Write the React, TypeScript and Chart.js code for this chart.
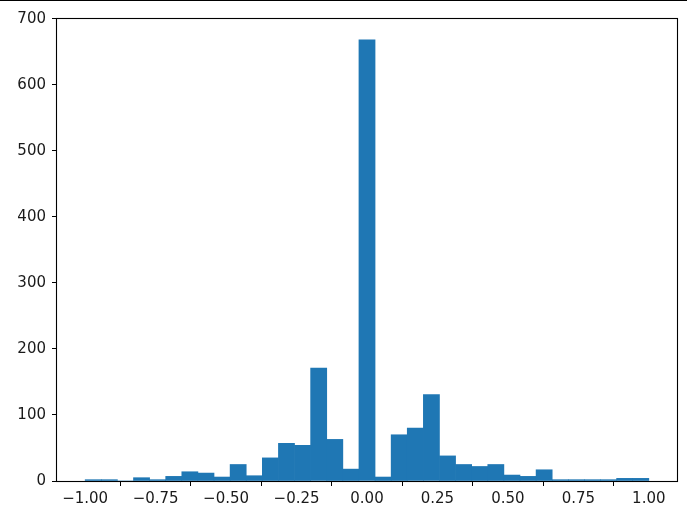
import React, { useEffect, useRef } from "react";
import { Chart, registerables } from "chart.js";

Chart.register(...registerables);

// Histogram: 35 equal bins from -1 to 1
const BIN_START = -1;
const BIN_END = 1;
const COUNTS = [
  2, 2, 0, 5, 2, 7, 14, 12, 6, 25,
  8, 35, 57, 54, 171, 63, 18, 668, 6, 70,
  80, 131, 38, 25, 22, 25, 9, 7, 17, 2,
  2, 2, 2, 4, 4,
];
const X_TICKS = [-1, -0.75, -0.5, -0.25, 0, 0.25, 0.5, 0.75, 1];
const Y_TICKS = [0, 100, 200, 300, 400, 500, 600, 700];

const FONT = { family: "'DejaVu Sans', sans-serif", size: 15 };

const framePlugin = {
  id: "frame",
  afterDraw(chart: any) {
    const { ctx, chartArea } = chart;
    ctx.save();
    ctx.strokeStyle = "#000";
    ctx.lineWidth = 1.1;
    ctx.strokeRect(
      Math.round(chartArea.left) - 0.5,
      Math.round(chartArea.top) + 0.5,
      Math.round(chartArea.right - chartArea.left) + 1,
      Math.round(chartArea.bottom - chartArea.top)
    );
    ctx.restore();
  },
};

export default function App() {
  const ref = useRef<HTMLCanvasElement | null>(null);
  useEffect(() => {
    if (!ref.current) return;
    const n = COUNTS.length;
    const w = (BIN_END - BIN_START) / n;
    const data = COUNTS.map((c, i) => ({ x: BIN_START + (i + 0.5) * w, y: c }));
    const fmt = (v: number) => (v < 0 ? "\u2212" : "") + Math.abs(v).toFixed(2);
    const chart = new Chart(ref.current, {
      type: "bar",
      data: {
        datasets: [
          {
            data: data as any,
            backgroundColor: "#1f77b4",
            borderWidth: 0,
            barPercentage: 1,
            categoryPercentage: 1,
          },
        ],
      },
      options: {
        animation: false,
        responsive: false,
        devicePixelRatio: 1,
        layout: { padding: { top: 18, right: 10, left: 0, bottom: 0 } },
        plugins: { legend: { display: false }, tooltip: { enabled: false } },
        scales: {
          x: {
            type: "linear",
            min: -1.1,
            max: 1.1,
            offset: false,
            border: { display: false },
            grid: { drawOnChartArea: false, drawTicks: true, tickLength: 5, tickColor: "#000", tickWidth: 1 },
            afterBuildTicks: (s: any) => {
              s.ticks = X_TICKS.map((v) => ({ value: v }));
            },
            afterFit: (s: any) => {
              s.height = 42;
            },
            ticks: {
              color: "#1a1a1a",
              font: FONT,
              padding: 4,
              maxRotation: 0,
              autoSkip: false,
              callback: (v: any) => fmt(Number(v)),
            },
          },
          y: {
            min: 0,
            max: 701,
            border: { display: false },
            grid: { drawOnChartArea: false, drawTicks: true, tickLength: 5, tickColor: "#000", tickWidth: 1 },
            afterBuildTicks: (s: any) => {
              s.ticks = Y_TICKS.map((v) => ({ value: v }));
            },
            afterFit: (s: any) => {
              s.width = 57;
            },
            ticks: {
              color: "#1a1a1a",
              font: FONT,
              padding: 6,
              autoSkip: false,
              callback: (v: any) => String(v),
            },
          },
        },
      },
      plugins: [framePlugin],
    });
    return () => chart.destroy();
  }, []);
  return (
    <>
      <div style={{ position: "fixed", left: 0, top: 0, width: 687, height: 1, background: "#000", zIndex: 2 }} />
      <canvas
        ref={ref}
        width={687}
        height={523}
        style={{ position: "fixed", left: 0, top: 0, width: 687, height: 523, background: "#fff" }}
      />
    </>
  );
}
